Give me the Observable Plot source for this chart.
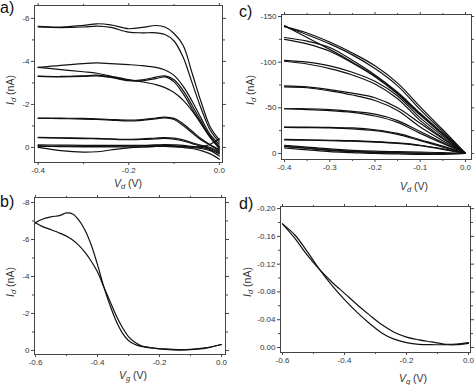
<!DOCTYPE html>
<html><head><meta charset="utf-8">
<script src="https://cdn.jsdelivr.net/npm/d3@7"></script>
<script src="https://cdn.jsdelivr.net/npm/@observablehq/plot@0.6"></script>
<style>
body{margin:0;background:#fff;}
#wrap{position:relative;width:474px;height:385px;overflow:hidden;font-family:"Liberation Sans",Arial,sans-serif;background:#fff;}
.panel{position:absolute;}
.panel svg{overflow:visible;display:block;}
.lab{position:absolute;font-size:16px;color:#111;line-height:1;}
.ax{position:absolute;font-size:10.5px;color:#333;white-space:nowrap;line-height:1;transform:translate(-50%,-50%);}
.ax.rot{transform:translate(-50%,-50%) rotate(-90deg);}
.ax sub{font-size:72%;vertical-align:-0.3em;line-height:0;font-style:italic;}
</style>
</head><body>
<div id="wrap">
  <div class="panel" id="pa" style="left:0;top:0"></div>
  <div class="panel" id="pc" style="left:237px;top:0"></div>
  <div class="panel" id="pb" style="left:0;top:192px"></div>
  <div class="panel" id="pd" style="left:237px;top:192px"></div>
  <div class="lab" style="left:0;top:0">a)</div>
  <div class="lab" style="left:239px;top:4px">c)</div>
  <div class="lab" style="left:0;top:194px">b)</div>
  <div class="lab" style="left:239px;top:196px">d)</div>
  <div class="ax" style="left:128px;top:183px"><i>V</i><sub>d</sub> (V)</div>
  <div class="ax rot" style="left:10px;top:90px"><i>I</i><sub>d</sub> (nA)</div>
  <div class="ax" style="left:414px;top:186px"><i>V</i><sub>d</sub> (V)</div>
  <div class="ax rot" style="left:250px;top:90px"><i>I</i><sub>d</sub> (nA)</div>
  <div class="ax" style="left:133px;top:375px"><i>V</i><sub>g</sub> (V)</div>
  <div class="ax rot" style="left:10px;top:282px"><i>I</i><sub>d</sub> (nA)</div>
  <div class="ax" style="left:413px;top:378px"><i>V</i><sub>g</sub> (V)</div>
  <div class="ax rot" style="left:247px;top:282px"><i>I</i><sub>d</sub> (nA)</div>
</div>
<script>
// ---------- panel a: output curves (Vd sweep) ----------
const aVd = [-0.4,-0.35,-0.3,-0.27,-0.24,-0.2,-0.17,-0.14,-0.12,-0.1,-0.08,-0.06,-0.04,-0.02,0];
const aA1 = [-5.63,-5.6,-5.68,-5.75,-5.7,-5.52,-5.58,-5.67,-5.6,-5.3,-4.75,-3.45,-2.1,-0.95,-0.35];
const aA2 = [-5.6,-5.57,-5.6,-5.64,-5.58,-5.36,-5.33,-5.33,-5.25,-4.95,-4.2,-3.0,-1.8,-0.8,-0.25];
const aB1 = [-3.72,-3.82,-3.9,-3.93,-3.9,-3.85,-3.8,-3.72,-3.6,-3.35,-2.85,-2.15,-1.35,-0.6,-0.15];
const aB2 = [-3.72,-3.62,-3.52,-3.45,-3.32,-3.15,-3.05,-2.92,-2.78,-2.55,-2.2,-1.7,-1.1,-0.5,-0.05];
const aB3 = [-3.32,-3.3,-3.33,-3.36,-3.28,-3.12,-3.14,-3.27,-3.33,-3.15,-2.65,-1.95,-1.2,-0.5,0.0];
const aB4 = [-3.3,-3.28,-3.3,-3.33,-3.26,-3.1,-3.1,-3.2,-3.28,-3.05,-2.5,-1.8,-1.1,-0.45,0.05];
const aC1 = [-1.37,-1.36,-1.35,-1.33,-1.3,-1.27,-1.3,-1.37,-1.41,-1.35,-1.1,-0.75,-0.4,-0.12,0.1];
const aC2 = [-1.35,-1.34,-1.32,-1.3,-1.27,-1.23,-1.26,-1.33,-1.37,-1.3,-1.02,-0.68,-0.35,-0.1,0.15];
const aD1 = [-0.47,-0.45,-0.43,-0.42,-0.4,-0.38,-0.4,-0.44,-0.46,-0.43,-0.35,-0.22,-0.1,0.0,0.2];
const aD2 = [-0.45,-0.43,-0.41,-0.4,-0.38,-0.36,-0.37,-0.4,-0.42,-0.38,-0.3,-0.18,-0.05,0.05,0.25];
const aE1 = [-0.12,-0.11,-0.1,-0.1,-0.1,-0.1,-0.1,-0.12,-0.13,-0.12,-0.1,-0.05,0.0,0.1,0.3];
const aE2 = [-0.05,-0.04,-0.03,-0.03,-0.03,-0.03,-0.03,-0.05,-0.07,-0.06,-0.03,0.0,0.05,0.15,0.4];
const aE3 = [0.0,0.15,0.22,0.2,0.12,0.02,-0.02,-0.05,-0.05,-0.03,0.0,0.05,0.15,0.3,0.55];
const aE4 = [-0.08,-0.06,-0.05,-0.05,-0.06,-0.07,-0.08,-0.1,-0.1,-0.08,-0.05,-0.02,-0.05,-0.15,-0.4];
const aXMajor = [-0.4,-0.2,0], aXMinor = [-0.3,-0.1];
const aYMajor = [-6,-4,-2,0], aYMinor = [-5,-3,-1];

// ---------- panel c: output curves, second device ----------
const cVd = [-0.4,-0.35,-0.3,-0.25,-0.2,-0.15,-0.1,-0.05,0];
const cT1 = [-139,-132,-122,-110,-96,-77,-51,-26,0];
const cT2 = [-139,-130,-120,-108,-93,-74,-48,-24,0];
const cT3 = [-140,-127,-114,-100,-85,-66,-43,-21,0];
const cU1 = [-127,-123,-116,-102,-86,-67,-44,-22,0];
const cU2 = [-125,-120,-112,-99,-84,-65,-42,-21,0];
const cV1 = [-102,-100,-96,-89,-79,-63,-39,-19,0];
const cV2 = [-101,-98,-93,-86,-76,-60,-36,-17,0];
const cW1 = [-74,-73,-70,-66,-61,-50,-33,-16,0];
const cW2 = [-73,-72,-68.5,-64,-58,-47,-29,-14,0];
const cX1 = [-49,-49,-48,-46,-43,-36,-24,-12,0];
const cX2 = [-49,-48,-47,-45,-41,-34,-22,-11,0];
const cY1 = [-29,-28.8,-28.5,-28,-26,-22,-15,-8,0];
const cY2 = [-28.5,-28.3,-28,-27,-25,-21,-14,-7,0];
const cZ1 = [-15.5,-15,-14.5,-14,-13,-11.5,-9,-5,0];
const cZ2 = [-15,-14.5,-14,-13.5,-12.5,-11,-8.5,-4.5,0];
const cG1 = [-9,-7,-5,-3.5,-2.5,-2,-1.5,-1,0];
const cG2 = [-7.5,-5.5,-3.5,-2,-1,-0.5,0,0.5,0];
const cG3 = [-6,-4,-2,-1,0,0.5,1,1,0];
const cG4 = [-8,-6,-4,-2.5,-1.5,-1,-0.5,0,0];
const cXMajor = [-0.4,-0.3,-0.2,-0.1,0], cXMinor = [-0.35,-0.25,-0.15,-0.05];
const cYMajor = [-150,-100,-50,0], cYMinor = [-125,-75,-25];

// ---------- panel b: transfer curve ----------
const bVg = [-0.6,-0.58,-0.55,-0.52,-0.5,-0.48,-0.46,-0.44,-0.42,-0.4,-0.38,-0.36,-0.34,-0.32,-0.3,-0.28,-0.26,-0.22,-0.18,-0.14,-0.1,-0.06,-0.03,0];
const bFwd = [-6.9,-7.08,-7.22,-7.3,-7.44,-7.38,-7.05,-6.5,-5.7,-4.65,-3.47,-2.47,-1.6,-0.95,-0.54,-0.33,-0.22,-0.13,-0.08,-0.05,-0.06,-0.12,-0.2,-0.32];
const bRev = [-6.9,-6.72,-6.53,-6.33,-6.18,-5.97,-5.68,-5.3,-4.82,-4.25,-3.45,-2.68,-1.9,-1.25,-0.75,-0.45,-0.27,-0.12,-0.05,-0.02,-0.04,-0.1,-0.2,-0.32];
const bXMajor = [-0.6,-0.4,-0.2,0], bXMinor = [-0.5,-0.3,-0.1];
const bYMajor = [-8,-6,-4,-2,0], bYMinor = [-7,-5,-3,-1];

// ---------- panel d: transfer curve, second device ----------
const dVg = [-0.6,-0.56,-0.52,-0.48,-0.44,-0.4,-0.36,-0.32,-0.28,-0.24,-0.2,-0.16,-0.12,-0.08,-0.04,0];
const dFwd = [-0.178,-0.162,-0.138,-0.112,-0.089,-0.069,-0.051,-0.035,-0.021,-0.012,-0.007,-0.0045,-0.004,-0.004,-0.004,-0.006];
const dRev = [-0.178,-0.157,-0.133,-0.112,-0.094,-0.078,-0.062,-0.047,-0.033,-0.022,-0.015,-0.011,-0.008,-0.005,-0.005,-0.007];
const dXMajor = [-0.6,-0.4,-0.2,0], dXMinor = [-0.5,-0.3,-0.1];
const dYMajor = [-0.2,-0.16,-0.12,-0.08,-0.04,0], dYMinor = [-0.18,-0.14,-0.1,-0.06,-0.02];

function rows(xs, series) {
  return Object.entries(series).flatMap(([k, ys]) => ys.map((y, i) => ({x: xs[i], y, s: k})));
}
const blank = () => "";

function panel(id, o) {
  const tc = "#444";
  const p = Plot.plot({
    width: o.w, height: o.h,
    marginLeft: o.ml, marginRight: o.mr, marginTop: o.mt, marginBottom: o.mb,
    x: {domain: o.xd, label: null},
    y: {domain: o.yd, label: null},
    style: {fontFamily: '"Liberation Sans", Arial, sans-serif', fontSize: "8px", color: "#333", background: "transparent", overflow: "visible"},
    marks: [
      Plot.axisX(o.xMaj, {anchor: "bottom", tickSize: 3, tickPadding: 2, tickFormat: o.xf, label: null, stroke: tc}),
      Plot.axisX(o.xMin, {anchor: "bottom", tickSize: 2, tickFormat: blank, label: null, stroke: tc}),
      Plot.axisX(o.xMaj, {anchor: "top", tickSize: 3, tickFormat: blank, label: null, stroke: tc}),
      Plot.axisX(o.xMin, {anchor: "top", tickSize: 2, tickFormat: blank, label: null, stroke: tc}),
      Plot.axisY(o.yMaj, {anchor: "left", tickSize: 3, tickPadding: 2, tickFormat: o.yf, label: null, stroke: tc}),
      Plot.axisY(o.yMin, {anchor: "left", tickSize: 2, tickFormat: blank, label: null, stroke: tc}),
      Plot.axisY(o.yMaj, {anchor: "right", tickSize: 3, tickFormat: blank, label: null, stroke: tc}),
      Plot.axisY(o.yMin, {anchor: "right", tickSize: 2, tickFormat: blank, label: null, stroke: tc}),
      Plot.frame({stroke: "#444", strokeWidth: 1}),
      Plot.line(o.data, {x: "x", y: "y", z: "s", curve: "catmull-rom", stroke: "#111", strokeWidth: 1.2})
    ]
  });
  document.getElementById(id).append(p);
}

panel("pa", {
  w: 237, h: 192, ml: 34, mr: 15, mt: 5, mb: 30,
  xd: [-0.408, 0.007], yd: [0.7, -6.6],
  xMaj: aXMajor, xMin: aXMinor, yMaj: aYMajor, yMin: aYMinor,
  xf: d => d.toFixed(1), yf: d => String(d),
  data: rows(aVd, {aA1, aA2, aB1, aB2, aB3, aB4, aC1, aC2, aD1, aD2, aE1, aE2, aE3, aE4})
});
panel("pc", {
  w: 237, h: 192, ml: 44, mr: 3, mt: 14, mb: 33,
  xd: [-0.4066, 0.0133], yd: [6.6, -152.2],
  xMaj: cXMajor, xMin: cXMinor, yMaj: cYMajor, yMin: cYMinor,
  xf: d => d.toFixed(1), yf: d => String(d),
  data: rows(cVd, {cT1, cT2, cT3, cU1, cU2, cV1, cV2, cW1, cW2, cX1, cX2, cY1, cY2, cZ1, cZ2, cG1, cG2, cG3, cG4})
});
panel("pb", {
  w: 237, h: 193, ml: 34, mr: 12, mt: 5, mb: 31,
  xd: [-0.603, 0.013], yd: [0.22, -8.27],
  xMaj: bXMajor, xMin: bXMinor, yMaj: bYMajor, yMin: bYMinor,
  xf: d => d.toFixed(1), yf: d => String(d),
  data: rows(bVg, {bFwd, bRev})
});
panel("pd", {
  w: 237, h: 193, ml: 43, mr: 4, mt: 14, mb: 33,
  xd: [-0.6065, 0.0065], yd: [0.0072, -0.203],
  xMaj: dXMajor, xMin: dXMinor, yMaj: dYMajor, yMin: dYMinor,
  xf: d => d.toFixed(1), yf: d => d.toFixed(2),
  data: rows(dVg, {dFwd, dRev})
});
</script>
</body></html>
